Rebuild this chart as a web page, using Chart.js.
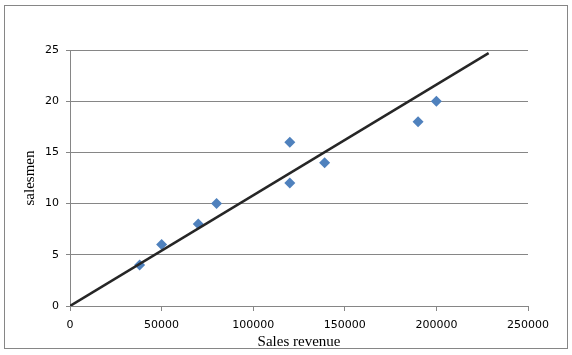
<!DOCTYPE html>
<html>
<head>
<meta charset="utf-8">
<script src="https://cdn.jsdelivr.net/npm/chart.js@4/dist/chart.umd.min.js"></script>
<style>
    html, body { margin: 0; padding: 0; background: #fff; }
    #chart { display: block; }
</style>
</head>
<body>
<canvas id="chart" width="572" height="355"></canvas>
<script>
// data
const revenue = [38000, 50000, 70000, 80000, 120000, 120000, 139000, 190000, 200000];
const salesmen = [4, 6, 8, 10, 12, 16, 14, 18, 20];
const trendX = [0, 228500];
const trendY = [0, 24.7];
const xTicks = [0, 50000, 100000, 150000, 200000, 250000];
const yTicks = [0, 5, 10, 15, 20, 25];

const gridGrey = '#868686';

// grey frame round the whole chart
const framePlugin = {
    id: 'frame',
    beforeDraw(chart) {
        const ctx = chart.ctx;
        ctx.save();
        ctx.fillStyle = '#fff';
        ctx.fillRect(0, 0, chart.width, chart.height);
        ctx.restore();
    },
    afterDraw(chart) {
        const ctx = chart.ctx;
        ctx.save();
        ctx.strokeStyle = gridGrey;
        ctx.lineWidth = 1;
        ctx.strokeRect(4.5, 5.5, 563, 343);
        ctx.restore();
    }
};

new Chart(document.getElementById('chart'), {
    type: 'scatter',
    data: {
        datasets: [
            {
                label: 'salesmen',
                data: revenue.map((x, i) => ({ x: x, y: salesmen[i] })),
                pointStyle: 'rectRot',
                pointRadius: 5.5,
                pointBackgroundColor: '#4F81BD',
                pointBorderColor: '#4F81BD',
                pointBorderWidth: 0,
                order: 2
            },
            {
                label: 'trend',
                type: 'line',
                data: trendX.map((x, i) => ({ x: x, y: trendY[i] })),
                borderColor: '#262626',
                borderWidth: 2.5,
                pointRadius: 0,
                fill: false,
                order: 1
            }
        ]
    },
    options: {
        responsive: false,
        animation: false,
        layout: { padding: { top: 50, right: 44, left: 0, bottom: 0 } },
        plugins: {
            legend: { display: false },
            tooltip: { enabled: false }
        },
        scales: {
            x: {
                type: 'linear',
                min: 0,
                max: 250000,
                afterBuildTicks: (axis) => { axis.ticks = xTicks.map(v => ({ value: v })); },
                afterFit: (axis) => { axis.height = 49; },
                grid: { drawOnChartArea: false, color: gridGrey, tickLength: 5 },
                border: { display: true, color: gridGrey },
                ticks: {
                    color: '#000',
                    padding: 8,
                    maxRotation: 0,
                    callback: (value) => String(value),
                    font: { family: 'DejaVu Sans', size: 11 }
                },
                title: {
                    display: true,
                    text: 'Sales revenue',
                    color: '#000',
                    padding: { top: 0, bottom: 4 },
                    font: { family: 'Liberation Serif', size: 15 }
                }
            },
            y: {
                min: 0,
                max: 25,
                afterBuildTicks: (axis) => { axis.ticks = yTicks.map(v => ({ value: v })); },
                afterFit: (axis) => { axis.width = 70; },
                grid: { color: gridGrey, tickLength: 4 },
                border: { display: true, color: gridGrey },
                ticks: {
                    color: '#000',
                    padding: 7,
                    callback: (value) => String(value),
                    font: { family: 'DejaVu Sans', size: 11 }
                },
                title: {
                    display: true,
                    text: 'salesmen',
                    color: '#000',
                    padding: { top: 21, bottom: 0 },
                    font: { family: 'Liberation Serif', size: 15 }
                }
            }
        }
    },
    plugins: [framePlugin]
});
</script>
</body>
</html>
